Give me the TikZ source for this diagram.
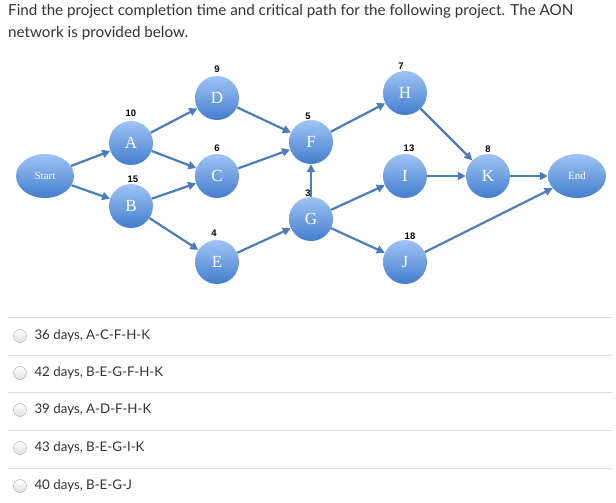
\documentclass[tikz,border=0pt]{standalone}
\usepackage{fontspec}
\setmainfont{Lato}
\newfontfamily\serifnode{Liberation Serif}
\newfontfamily\labfont{Liberation Sans}
\usetikzlibrary{arrows.meta}
\definecolor{ntop}{RGB}{160,196,245}
\definecolor{nbot}{RGB}{66,125,205}
\definecolor{edgec}{RGB}{75,125,190}
\definecolor{sepc}{RGB}{222,222,222}
\definecolor{txtc}{RGB}{51,51,51}
\tikzset{
 x=1pt,y=-1pt,
 actnode/.style={circle,minimum size=44pt,inner sep=0pt,top color=ntop,bottom color=nbot,draw=none,text=white,font=\serifnode\fontsize{17}{17}\selectfont},
 endnode/.style={ellipse,minimum width=58pt,minimum height=44pt,inner sep=0pt,top color=ntop,bottom color=nbot,text=white,font=\serifnode\fontsize{11}{11}\selectfont},
 dur/.style={font=\labfont\bfseries\fontsize{9.5}{9.5}\selectfont},
 link/.style={draw=edgec,line width=2.2pt,-{Triangle[length=8pt,width=8pt]}},
 sep/.style={draw=sepc,line width=0.8pt},
 radio/.style={circle,minimum size=13pt,inner sep=0pt,draw=gray!70,top color=white,bottom color=gray!25},
 opt/.style={anchor=west,text=txtc,font=\fontsize{13.3}{14}\selectfont}
}
\usetikzlibrary{shapes.geometric}
\begin{document}
\begin{tikzpicture}
\useasboundingbox (0,0) rectangle (616,503);
\node[anchor=north west,text=txtc,align=left,inner sep=0pt,font=\fontsize{15.2}{22}\selectfont] (q) at (8,4) {Find the project completion time and critical path for the following project. The AON\\network is provided below.};
\node[endnode] (S) at (45,176) {Start};
\node[actnode] (A) at (131,143) {A};
\node[actnode] (B) at (131,206) {B};
\node[actnode] (D) at (217,98) {D};
\node[actnode] (C) at (217,176) {C};
\node[actnode] (E) at (217,262) {E};
\node[actnode] (F) at (311,142) {F};
\node[actnode] (G) at (311,219) {G};
\node[actnode] (H) at (405,93) {H};
\node[actnode] (I) at (405,176) {I};
\node[actnode] (J) at (405,262) {J};
\node[actnode] (K) at (488,176) {K};
\node[endnode] (En) at (577,176) {End};
\node[dur] (dD) at (217,69) {9};
\node[dur] (dA) at (131,113) {10};
\node[dur] (dB) at (133,179) {15};
\node[dur] (dC) at (217,148) {6};
\node[dur] (dE) at (214,233) {4};
\node[dur] (dF) at (308,116) {5};
\node[dur] (dG) at (308,193) {3};
\node[dur] (dH) at (401,66) {7};
\node[dur] (dI) at (409,148) {13};
\node[dur] (dK) at (488,149) {8};
\node[dur] (dJ) at (410,236) {18};
\path[link] (S) -- (A);
\path[link] (S) -- (B);
\path[link] (A) -- (D);
\path[link] (A) -- (C);
\path[link] (B) -- (C);
\path[link] (B) -- (E);
\path[link] (D) -- (F);
\path[link] (C) -- (F);
\path[link] (E) -- (G);
\path[link] (G) -- (F);
\path[link] (F) -- (H);
\path[link] (G) -- (I);
\path[link] (G) -- (J);
\path[link] (H) -- (K);
\path[link] (I) -- (K);
\path[link] (K) -- (En);
\path[link] (J) -- (En);
\foreach \y in {317,355,392,430,468} \draw[sep] (8,\y) -- (612,\y);
\node[radio] (r1) at (20,336) {};
\node[radio] (r2) at (20,373) {};
\node[radio] (r3) at (20,410) {};
\node[radio] (r4) at (20,448) {};
\node[radio] (r5) at (20,486) {};
\node[opt] (o1) at (31,336) {36 days, A-C-F-H-K};
\node[opt] (o2) at (31,373) {42 days, B-E-G-F-H-K};
\node[opt] (o3) at (31,410) {39 days, A-D-F-H-K};
\node[opt] (o4) at (31,448) {43 days, B-E-G-I-K};
\node[opt] (o5) at (31,486) {40 days, B-E-G-J};
\end{tikzpicture}
\end{document}
